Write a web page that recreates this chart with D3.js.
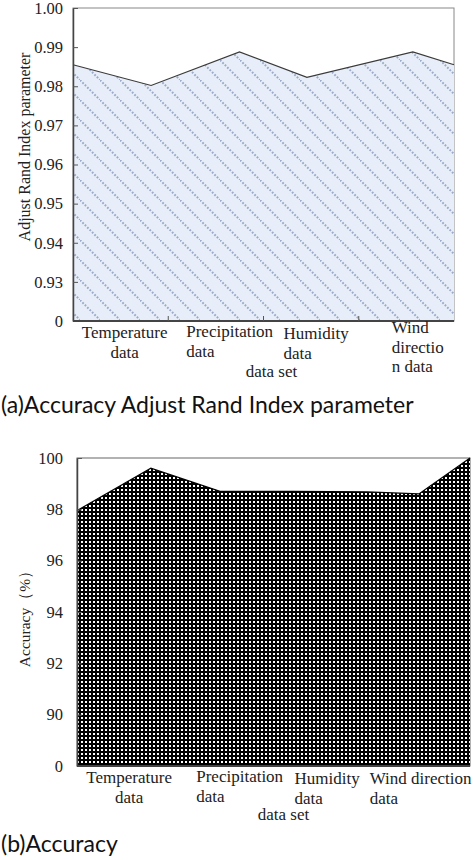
<!DOCTYPE html>
<html>
<head>
<meta charset="utf-8">
<script src="https://cdn.jsdelivr.net/npm/d3@7"></script>
<style>
  body { margin: 0; background: #fff; }
  svg { display: block; }
</style>
</head>
<body>
<svg id="chart" width="474" height="860"></svg>
<script>
// ---- data ----
const categories = ["Temperature data", "Precipitation data", "Humidity data", "Wind direction data"];
const topLabelLines = [["Temperature", "data"], ["Precipitation", "data"], ["Humidity", "data"], ["Wind", "directio", "n data"]];
const bottomLabelLines = [["Temperature", "data"], ["Precipitation", "data"], ["Humidity", "data"], ["Wind direction", "data"]];

// x = position along the data set axis (0..1), y = value
const ariX = [0, 0.205, 0.437, 0.614, 0.892, 1];
const ariValues = [0.9855, 0.9802, 0.9888, 0.9823, 0.9888, 0.9855];
const accX = [0, 0.188, 0.364, 0.55, 0.738, 0.87, 1];
const accValues = [97.95, 99.6, 98.7, 98.7, 98.68, 98.6, 100];

const ariTicks = [0.92, 0.93, 0.94, 0.95, 0.96, 0.97, 0.98, 0.99, 1.00];
const ariTickLabels = ["0", "0.93", "0.94", "0.95", "0.96", "0.97", "0.98", "0.99", "1.00"];
const accTicks = [88, 90, 92, 94, 96, 98, 100];
const accTickLabels = ["0", "90", "92", "94", "96", "98", "100"];

const serif = "'Liberation Serif', 'Times New Roman', serif";
const sans = "Lato, 'Open Sans', sans-serif";

const svg = d3.select("#chart");
const defs = svg.append("defs");

// light blue with dotted diagonal hatch
const hatch = defs.append("pattern")
  .attr("id", "hatch")
  .attr("patternUnits", "userSpaceOnUse")
  .attr("width", 20).attr("height", 20);
hatch.append("rect").attr("width", 20).attr("height", 20).attr("fill", "#e8eef9");
hatch.append("path")
  .attr("d", "M0,0L20,20")
  .attr("stroke", "#9aabc9")
  .attr("stroke-width", 2)
  .attr("stroke-dasharray", "1.8 1.6");

// black with white dots
const dots = defs.append("pattern")
  .attr("id", "dots")
  .attr("patternUnits", "userSpaceOnUse")
  .attr("width", 4).attr("height", 4);
dots.append("rect").attr("width", 4).attr("height", 4).attr("fill", "#000");
dots.append("rect").attr("x", 1).attr("y", 1).attr("width", 2).attr("height", 2).attr("fill", "#fff");

function drawPanel(o) {
  const g = svg.append("g");
  const x = d3.scaleLinear().domain([0, 1]).range([o.left, o.right]);
  const y = d3.scaleLinear().domain(o.domain).range([o.bottom, o.top]);
  const band = d3.scaleBand().domain(categories).range([o.left, o.right]);
  const pts = o.xs.map((v, i) => [v, o.values[i]]);

  // frame
  g.append("rect")
    .attr("x", o.left).attr("y", o.top)
    .attr("width", o.right - o.left).attr("height", o.bottom - o.top)
    .attr("fill", "none").attr("stroke", o.frame).attr("stroke-width", 1);

  const area = d3.area()
    .x(d => x(d[0]))
    .y0(y(o.domain[0]))
    .y1(d => y(d[1]));
  g.append("path").datum(pts)
    .attr("d", area)
    .attr("fill", o.fill);

  g.append("path").datum(pts)
    .attr("d", d3.line().x(d => x(d[0])).y(d => y(d[1])))
    .attr("fill", "none")
    .attr("stroke", o.lineColor)
    .attr("stroke-width", 1.2);

  // y axis
  const yAxis = d3.axisLeft(y)
    .tickValues(o.ticks)
    .tickFormat((d, i) => o.tickLabels[i])
    .tickSizeInner(-5).tickSizeOuter(0)
    .tickPadding(o.tickPad);
  const ya = g.append("g").attr("transform", `translate(${o.left},0)`).call(yAxis);
  ya.select(".domain").attr("stroke", "#444").attr("stroke-width", 1.5);
  ya.selectAll(".tick line").attr("stroke", "#555");
  ya.selectAll(".tick text")
    .attr("font-family", serif).attr("font-size", 16.5).attr("fill", "#222");

  // x axis line and category ticks
  g.append("line")
    .attr("x1", o.left).attr("x2", o.right)
    .attr("y1", o.bottom).attr("y2", o.bottom)
    .attr("stroke", "#444").attr("stroke-width", 2);
  if (o.xTicks) {
    g.selectAll(".xtick").data(categories.slice(1)).join("line")
      .attr("x1", d => band(d)).attr("x2", d => band(d))
      .attr("y1", o.bottom).attr("y2", o.bottom - 5)
      .attr("stroke", "#555");
  }

  // category labels
  categories.forEach((c, i) => {
    const lines = o.labelLines[i];
    const anchor = i === 0 ? "middle" : "start";
    const lx = i === 0 ? band(c) + band.bandwidth() / 2 + o.labelOffsets[i] : band(c) + o.labelOffsets[i];
    const t = g.append("text")
      .attr("font-family", serif).attr("font-size", 17).attr("fill", "#222")
      .attr("text-anchor", anchor);
    lines.forEach((ln, j) => {
      t.append("tspan")
        .attr("x", lx)
        .attr("y", o.labelY + o.labelShift[i] + j * 19.5)
        .text(ln);
    });
  });

  g.append("text")
    .attr("x", (o.left + o.right) / 2 + o.xTitleShift).attr("y", o.xTitleY)
    .attr("text-anchor", "middle")
    .attr("font-family", serif).attr("font-size", 17).attr("fill", "#222")
    .text("data set");

  g.append("text")
    .attr("transform", `translate(${o.yTitleX},${o.yTitleY}) rotate(-90)`)
    .attr("text-anchor", "middle")
    .attr("font-family", serif).attr("font-size", o.yTitleSize).attr("fill", "#222")
    .text(o.yTitle);

  g.append("text")
    .attr("x", 1).attr("y", o.captionY)
    .attr("font-family", sans).attr("font-size", 23).attr("fill", "#111")
    .text(o.caption);
}

drawPanel({
  left: 73, right: 454, top: 8, bottom: 321,
  domain: [0.92, 1.00], xs: ariX, values: ariValues,
  ticks: ariTicks, tickLabels: ariTickLabels, tickPad: 10,
  fill: "url(#hatch)", lineColor: "#3a3a3a", frame: "#888",
  xTicks: true,
  labelLines: topLabelLines, labelOffsets: [4, 18, 20, 33], labelShift: [0, -1, 1, -5],
  labelY: 338, xTitleY: 377, xTitleShift: 8,
  yTitle: "Adjust Rand Index parameter", yTitleX: 30, yTitleY: 147, yTitleSize: 16,
  caption: "(a)Accuracy Adjust Rand Index parameter", captionY: 413
});

drawPanel({
  left: 77, right: 470, top: 458, bottom: 766,
  domain: [88, 100], xs: accX, values: accValues,
  ticks: accTicks, tickLabels: accTickLabels, tickPad: 14,
  fill: "url(#dots)", lineColor: "#000", frame: "#666",
  xTicks: false,
  labelLines: bottomLabelLines, labelOffsets: [3, 21, 21, -2], labelShift: [0, -1, 1, 1],
  labelY: 783, xTitleY: 820, xTitleShift: 10,
  yTitle: "Accuracy（%）", yTitleX: 30, yTitleY: 615, yTitleSize: 15.5,
  caption: "(b)Accuracy", captionY: 852
});
</script>
</body>
</html>
